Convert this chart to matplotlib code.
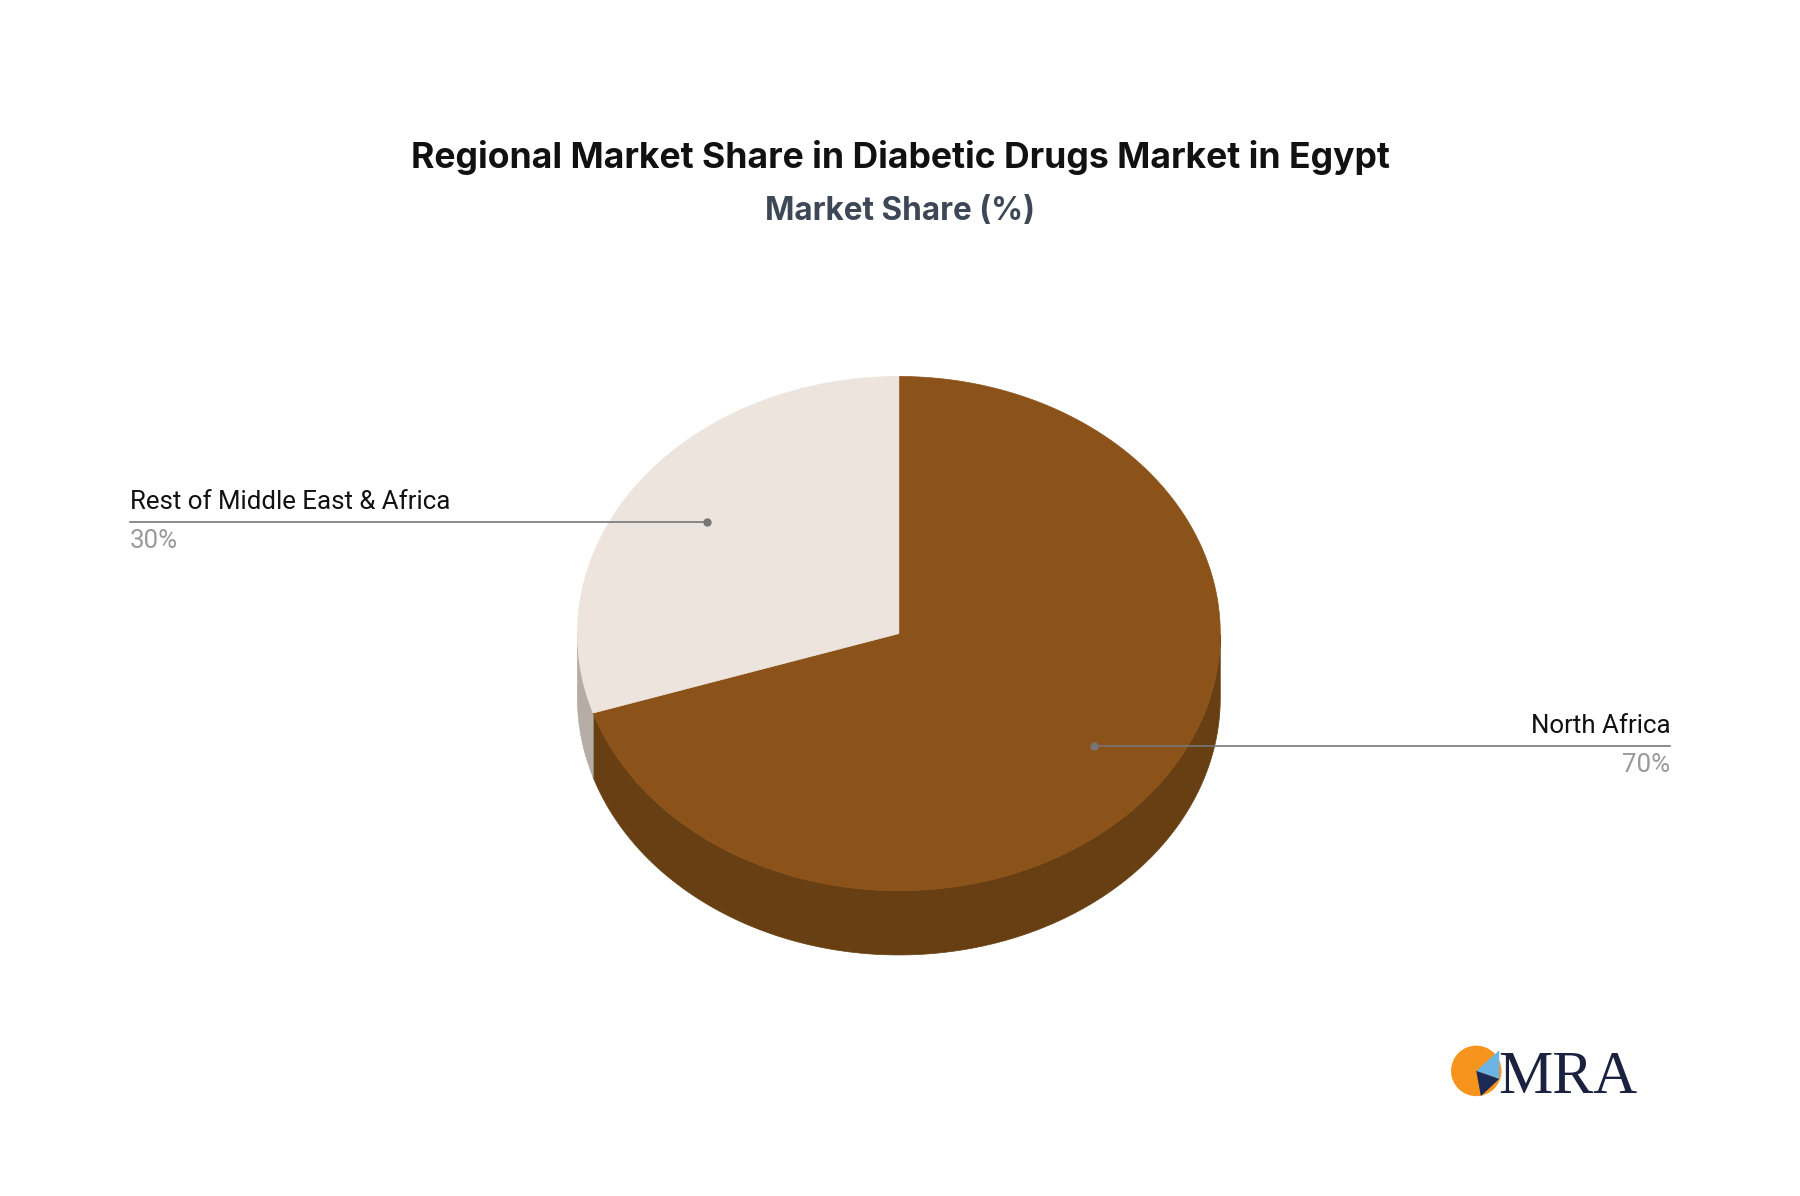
import numpy as np
import matplotlib
matplotlib.use("Agg")
import matplotlib.pyplot as plt
from matplotlib.patches import Polygon, Circle

categories = ["North Africa", "Rest of Middle East & Africa"]
values = [70, 30]
top_colors = ["#8B5319", "#EDE5DD"]
side_colors = ["#673F13", "#B5ADA5"]

title = "Regional Market Share in Diabetic Drugs Market in Egypt"
subtitle = "Market Share (%)"

fig = plt.figure(figsize=(18, 11.96), dpi=100)
ax = fig.add_axes([0, 0, 1, 1])
ax.set_xlim(0, 1568); ax.set_ylim(1042, 0); ax.axis("off")

cx, cy, rx, ry, depth = 783, 552, 280, 224, 56

def pt(t):
    return cx + rx*np.cos(t), cy - ry*np.sin(t)

total = sum(values)
start = np.pi/2
spans = []
for v in values:
    end = start - 2*np.pi*v/total
    spans.append((start, end))
    start = end

for (a, b), c in zip(spans, side_colors):
    ts = np.linspace(a, b, 400)
    ts = ts[np.sin(ts) <= 0]
    if len(ts) < 2:
        continue
    x, y = pt(ts)
    poly = list(zip(x, y)) + list(zip(x[::-1], y[::-1] + depth))
    ax.add_patch(Polygon(poly, closed=True, fc=c, ec=c, lw=0.5, zorder=1))

for (a, b), c in zip(spans, top_colors):
    ts = np.linspace(a, b, 400)
    x, y = pt(ts)
    poly = [(cx, cy)] + list(zip(x, y))
    ax.add_patch(Polygon(poly, closed=True, fc=c, ec=c, lw=0.5, zorder=2))

ax.text(784, 137, title, ha="center", va="center", fontsize=25.6, fontweight="bold",
        family="Inter", color="#111111")
ax.text(784, 184, subtitle, ha="center", va="center", fontsize=22.7, fontweight="bold",
        family="Inter", color="#3D4756")

lab = {"Rest of Middle East & Africa": ((616, 455), 113, "left"),
       "North Africa": ((953, 650), 1455, "right")}
for cat, v in zip(categories, values):
    (px, py), lx, ha = lab[cat]
    ax.plot([px, lx], [py, py], color="#777777", lw=1.2, zorder=3)
    ax.plot(px, py, "o", color="#777777", ms=5, zorder=3)
    ax.text(lx, py - 7, cat, ha=ha, va="bottom", fontsize=18.6, family="Roboto", color="#111111")
    ax.text(lx, py + 6, f"{v}%", ha=ha, va="top", fontsize=18.6, family="Roboto", color="#9A9A9A")

ax.add_patch(Circle((1286, 933), 22, fc="#F7941D", ec="none", zorder=3))
ax.add_patch(Polygon([(1286, 933), (1306, 915), (1306, 940)], fc="#6CB4E4", zorder=4))
ax.add_patch(Polygon([(1286, 933), (1306, 940), (1290, 955)], fc="#1B2A55", zorder=4))
ax.text(1305, 952, "MRA", ha="left", va="baseline", fontsize=44, family="Liberation Serif",
        color="#1B2240")

fig.savefig("out.png", dpi=100, facecolor="white")
